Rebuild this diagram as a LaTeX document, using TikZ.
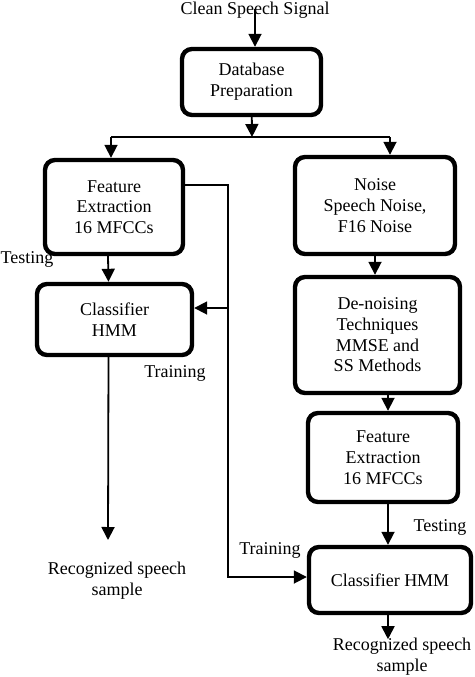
\documentclass[tikz,border=0pt]{standalone}
\usepackage{fontspec}
\setmainfont{Liberation Serif}
\usetikzlibrary{arrows.meta}
\tikzset{
  blk/.style={draw,line width=4.4pt,rounded corners=10pt,align=center,inner sep=2pt},
  lnk/.style={line width=1.8pt,line join=miter,-{Triangle[width=13pt,length=13pt]}},
  lin/.style={line width=1.8pt,line join=miter},
  lbl/.style={align=center,inner sep=0pt}
}
\begin{document}
\begin{tikzpicture}[x=1pt,y=-1pt,font=\fontsize{18}{20.7}\selectfont]
\useasboundingbox (0,0) rectangle (474,677);
% nodes
\node[lbl] (src) at (255,10) {Clean Speech Signal};
\node[blk,minimum width=139pt,minimum height=66pt] (db) at (251.5,82) {Database\\Preparation};
\node[blk,minimum width=138pt,minimum height=94pt] (fe1) at (114,207) {Feature\\Extraction\\16 MFCCs};
\node[blk,minimum width=160pt,minimum height=97pt] (ns) at (375,205.5) {Noise\\Speech Noise,\\F16 Noise};
\node[blk,minimum width=155pt,minimum height=71pt] (cl1) at (114.5,319.5) {Classifier\\HMM};
\node[blk,minimum width=165pt,minimum height=116pt] (dn) at (377.5,335) {De-noising\\Techniques\\MMSE and\\SS Methods};
\node[blk,minimum width=150pt,minimum height=89pt] (fe2) at (383,457.5) {Feature\\Extraction\\16 MFCCs};
\node[blk,minimum width=162pt,minimum height=66pt] (cl2) at (390,580) {Classifier HMM};
\node[lbl] (rec1) at (117,581) {Recognized speech\\sample};
\node[lbl] (rec2) at (402,657) {Recognized speech\\sample};
\node[lbl] (tst1) at (27,259) {Testing};
\node[lbl] (trn1) at (175,373) {Training};
\node[lbl] (trn2) at (270,550) {Training};
\node[lbl] (tst2) at (440,527) {Testing};
\coordinate (sp) at (252,137);
\coordinate (spl) at (111,137);
\coordinate (spr) at (390,137);
\coordinate (tr) at (228,185);
\coordinate (br) at (228,308);
\coordinate (o1) at (108,540);
% connectors
\draw[lnk] ([yshift=9pt]src.south) -- (src.south |- db.north);
\draw[lnk] (db) -- (sp);
\draw[lin] (spl) -- (spr);
\draw[lnk] (spl) -- (spl |- fe1.north);
\draw[lnk] (spr) -- (spr |- ns.north);
\draw[lnk] ([xshift=-6pt]fe1.south) -- ([xshift=-6pt]cl1.north);
\draw[lnk] ([xshift=-6pt]cl1.south) -- (o1);
\draw[lnk] (fe1.east |- tr) -- (tr) |- ([yshift=3pt]cl2.west);
\draw[lnk] (br) -- (br -| cl1.east);
\draw[lnk] (ns.south) -- (ns.south |- dn.north);
\draw[lnk] ([xshift=5pt]fe2.north |- dn.south) -- ([xshift=5pt]fe2.north);
\draw[lnk] ([xshift=5pt]fe2.south) -- ([xshift=5pt]fe2.south |- cl2.north);
\draw[lnk] ([xshift=-2pt]cl2.south) -- ([xshift=-2pt,yshift=-24pt]cl2.south);
\end{tikzpicture}
\end{document}
